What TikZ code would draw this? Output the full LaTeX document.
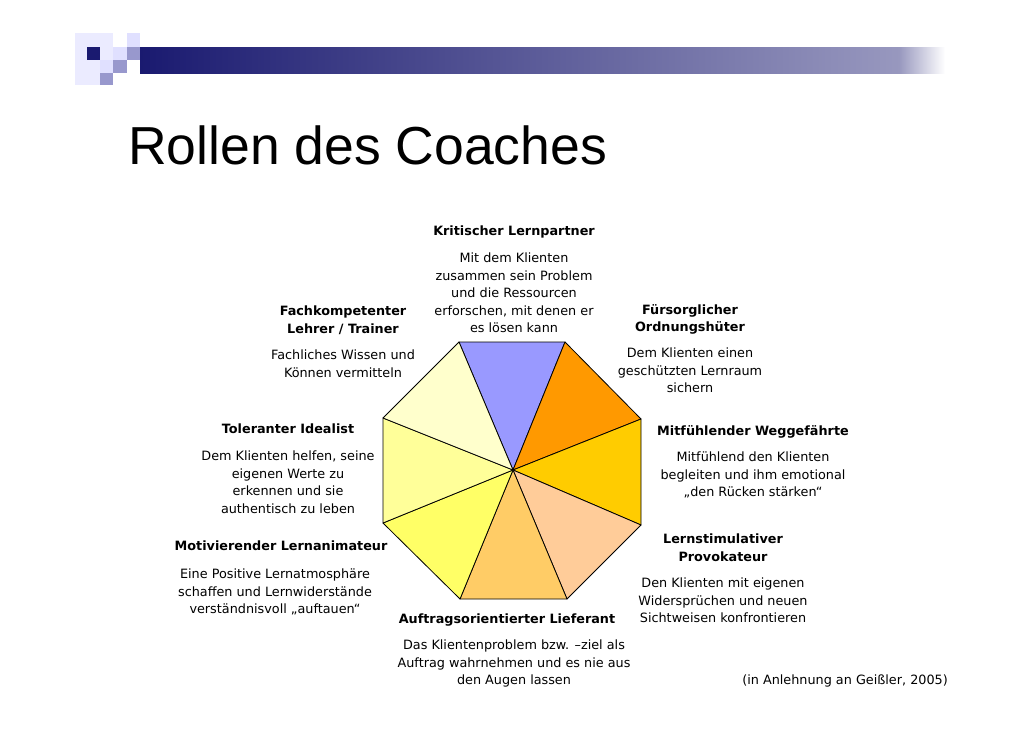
\documentclass[tikz,border=0pt]{standalone}
\usepackage{fontspec}
\setmainfont{DejaVu Sans}
\newfontfamily\titlefont{Liberation Sans}
\begin{document}
\begin{tikzpicture}[x=1pt,y=-1pt,
  txt/.style={align=center,anchor=north,inner sep=0pt,font=\fontsize{12.8}{17.5}\selectfont},
  hd/.style={txt,font=\fontsize{12.8}{17.5}\selectfont\bfseries},
  seg/.style={draw=black,line width=0.8pt,line join=round}]
\useasboundingbox (0,0) rectangle (1030,728);
% header
\definecolor{navy}{HTML}{1A1A70}
\fill[left color=navy,right color=navy!45!white] (140,47) rectangle (900,73);
\fill[left color=navy!45!white,right color=white] (899,47) rectangle (945,73);
\fill[blue!8!white] (75,33) rectangle (113,85);
\fill[navy] (87,47) rectangle (100,60);
\fill[blue!12!white] (113,47) rectangle (127,60);
\fill[blue!12!white] (127,33) rectangle (140,47);
\fill[blue!35!gray!60!white] (127,47) rectangle (140,60);
\fill[blue!35!gray!60!white] (113,60) rectangle (127,73);
\fill[blue!35!gray!60!white] (100,73) rectangle (113,85);
\fill[blue!12!white] (100,60) rectangle (113,73);
\node[anchor=base west,inner sep=0pt,font=\titlefont\fontsize{53.5}{58}\selectfont] (title) at (128,164) {Rollen des Coaches};
% octagon
\coordinate (c) at (513,470);
\coordinate (p1) at (459,342); \coordinate (p2) at (565,342);
\coordinate (p3) at (641,419); \coordinate (p4) at (641,525);
\coordinate (p5) at (567,599); \coordinate (p6) at (460,599);
\coordinate (p7) at (383,523); \coordinate (p8) at (383,418);
\filldraw[seg,fill={rgb,255:red,153;green,153;blue,255}] (c)--(p1)--(p2)--cycle;
\filldraw[seg,fill={rgb,255:red,255;green,153;blue,0}] (c)--(p2)--(p3)--cycle;
\filldraw[seg,fill={rgb,255:red,255;green,204;blue,0}] (c)--(p3)--(p4)--cycle;
\filldraw[seg,fill={rgb,255:red,255;green,204;blue,153}] (c)--(p4)--(p5)--cycle;
\filldraw[seg,fill={rgb,255:red,255;green,204;blue,102}] (c)--(p5)--(p6)--cycle;
\filldraw[seg,fill={rgb,255:red,255;green,255;blue,102}] (c)--(p6)--(p7)--cycle;
\filldraw[seg,fill={rgb,255:red,255;green,255;blue,153}] (c)--(p7)--(p8)--cycle;
\filldraw[seg,fill={rgb,255:red,255;green,255;blue,204}] (c)--(p8)--(p1)--cycle;
% labels
\node[hd] (h1) at (514,226) {Kritischer Lernpartner};
\node[txt] (b1) at (514,253) {Mit dem Klienten\\zusammen sein Problem\\und die Ressourcen\\erforschen, mit denen er\\es lösen kann};
\node[hd] (h2) at (343,306) {Fachkompetenter\\Lehrer / Trainer};
\node[txt] (b2) at (343,350) {Fachliches Wissen und\\Können vermitteln};
\node[hd] (h3) at (690,304) {Fürsorglicher\\Ordnungshüter};
\node[txt] (b3) at (690,348) {Dem Klienten einen\\geschützten Lernraum\\sichern};
\node[hd] (h4) at (288,424) {Toleranter Idealist};
\node[txt] (b4) at (288,451) {Dem Klienten helfen, seine\\eigenen Werte zu\\erkennen und sie\\authentisch zu leben};
\node[hd] (h5) at (753,425) {Mitfühlender Weggefährte};
\node[txt] (b5) at (753,452) {Mitfühlend den Klienten\\begleiten und ihm emotional\\„den Rücken stärken“};
\node[hd] (h6) at (281,541) {Motivierender Lernanimateur};
\node[txt] (b6) at (275,569) {Eine Positive Lernatmosphäre\\schaffen und Lernwiderstände\\verständnisvoll „auftauen“};
\node[hd] (h7) at (723,534) {Lernstimulativer\\Provokateur};
\node[txt] (b7) at (723,578) {Den Klienten mit eigenen\\Widersprüchen und neuen\\Sichtweisen konfrontieren};
\node[hd] (h8) at (507,614) {Auftragsorientierter Lieferant};
\node[txt] (b8) at (514,640) {Das Klientenproblem bzw. –ziel als\\Auftrag wahrnehmen und es nie aus\\den Augen lassen};
\node[txt,anchor=north east] (src) at (948,675) {(in Anlehnung an Geißler, 2005)};
\end{tikzpicture}
\end{document}
